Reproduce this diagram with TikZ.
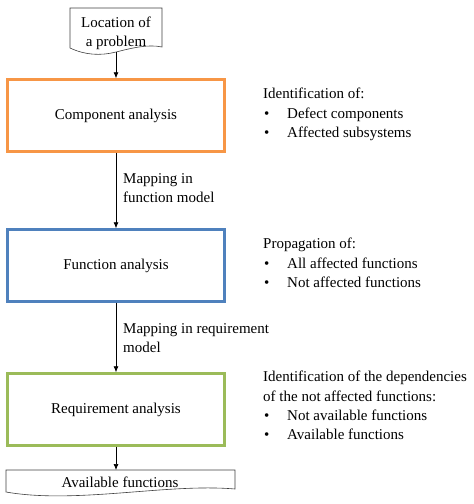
\documentclass[tikz,border=0pt]{standalone}
\usepackage{fontspec}
\setmainfont{Liberation Serif}
\usetikzlibrary{arrows.meta}
\definecolor{oorange}{HTML}{F79646}
\definecolor{oblue}{HTML}{4F81BD}
\definecolor{ogreen}{HTML}{9BBB59}
\tikzset{
  x=1pt, y=1pt,
  txt/.style={font=\fontsize{15}{19.3}\selectfont, inner sep=0pt},
  stagebox/.style={draw, line width=2.4pt, minimum width=217pt, minimum height=72pt, txt},
  docshape/.style={draw=black!75, line width=0.6pt, fill=white},
  arr/.style={draw, line width=0.7pt, -{Latex[length=6pt,width=5pt]}},
  note/.style={txt, align=left, anchor=north west},
  lab/.style={txt, align=left, anchor=north west}
}
\newcommand{\bul}{\makebox[24pt][l]{\hspace{1pt}\textbullet}}
\begin{document}
\begin{tikzpicture}
\useasboundingbox (0,0) rectangle (474,-504);
% document shape: location
\path[docshape] (70,-8) -- (162,-8) -- (162,-47) .. controls (148,-44) and (132,-48) .. (116,-52) .. controls (100,-56) and (85,-55) .. (70,-48) -- cycle;
\node[txt, align=center] (loc) at (116,-33) {Location of\\a problem};
\coordinate (locb) at (116,-52);
% stage boxes
\node[stagebox, draw=oorange] (comp) at (116,-115.5) {Component analysis};
\node[stagebox, draw=oblue] (func) at (116,-265.5) {Function analysis};
\node[stagebox, draw=ogreen] (req) at (116,-409.5) {Requirement analysis};
% document shape: available functions
\path[docshape] (6,-470) -- (235,-470) -- (235,-489) .. controls (200,-486) and (160,-490) .. (120,-493) .. controls (80,-496) and (40,-498) .. (6,-492) -- cycle;
\node[txt] (avail) at (120,-482.5) {Available functions};
\coordinate (availt) at (116,-470);
% connectors
\draw[arr] (locb) -- (comp.north);
\draw[arr] (comp.south) -- (func.north);
\draw[arr] (func.south) -- (req.north);
\draw[arr] (req.south) -- (availt);
% connector labels
\node[lab] (lab1) at (123,-173) {Mapping in\\function model};
\node[lab] (lab2) at (123,-323) {Mapping in requirement\\model};
% notes
\node[note] (ann1) at (263,-88) {Identification of:\\\bul Defect components\\\bul Affected subsystems};
\node[note] (ann2) at (263,-238) {Propagation of:\\\bul All affected functions\\\bul Not affected functions};
\node[note] (ann3) at (263,-371) {Identification of the dependencies\\of the not affected functions:\\\bul Not available functions\\\bul Available functions};
\end{tikzpicture}
\end{document}
